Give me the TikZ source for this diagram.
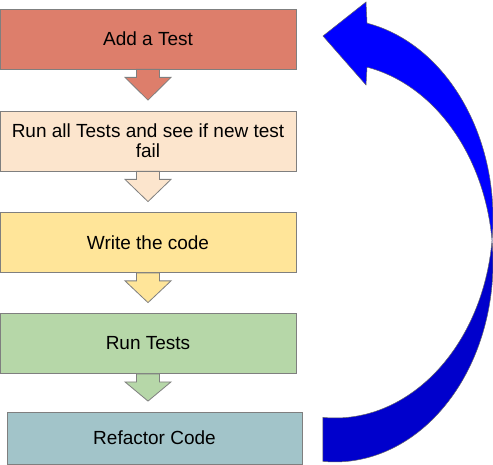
\documentclass[tikz,border=0pt]{standalone}
\usepackage{fontspec}
\setmainfont{Liberation Sans}
\usepackage{xcolor}
\usetikzlibrary{calc}
\definecolor{boxA}{HTML}{DD7E6B}
\definecolor{boxB}{HTML}{FCE5CD}
\definecolor{boxC}{HTML}{FFE599}
\definecolor{boxD}{HTML}{B6D7A8}
\definecolor{boxE}{HTML}{A2C4C9}
\definecolor{boxline}{HTML}{7F7F7F}
\definecolor{loopblue}{HTML}{0000FF}
\definecolor{loopdark}{HTML}{0000CC}

\begin{document}
\begin{tikzpicture}[x=1pt,y=1pt,
  box/.style={draw=boxline, line width=0.8pt, minimum width=296pt, minimum height=60pt,
    inner sep=0pt, align=center, font=\fontsize{19}{20}\selectfont},
  blockarr/.style={draw=boxline, line width=0.8pt, fill=#1},
  loopline/.style={draw=black!60, line width=0.5pt}]
  \useasboundingbox (0,0) rectangle (493,-465);

  \foreach \n/\y/\c/\t in {add/-39/boxA/{Add a Test},
      runall/-141/boxB/{Run all Tests and see if new test\\fail},
      write/-242.5/boxC/{Write the code},
      run/-343.5/boxD/{Run Tests}} {
    \node[box, fill=\c] (\n) at (148,\y) {\t};}
  \node[box, fill=boxE, minimum width=295pt, minimum height=52pt] (refactor) at (154.5,-438) {Refactor Code};

  \foreach \a/\b/\c in {add/runall/boxA, runall/write/boxB, write/run/boxC, run/refactor/boxD} {
    \draw[blockarr=\c] ($(\a.south)+(-11.5,0)$) -- ++(0,-8) -- ++(-11.5,0)
      -- ($(\a.south |- \b.north)+(0,10.5)$) -- ($(\a.south)+(23,-8)$) -- ++(-11.5,0)
      -- ($(\a.south)+(11.5,0)$) -- cycle;}

  \coordinate (e1) at (335,-218.5);
  \coordinate (e2) at (335,-262.5);
  \draw[loopline, fill=loopdark] ($(e1)+(-94.36:158 and 199.5)$)
    arc[start angle=-94.36, end angle=-6.33, x radius=158, y radius=199.5]
    arc[start angle=6.33, end angle=-94.36, x radius=158, y radius=199.5] -- cycle;
  \draw[loopline, fill=loopblue] ($(e2)+(6.33:158 and 199.5)$)
    arc[start angle=6.33, end angle=78.3, x radius=158, y radius=199.5]
    -- (366,-85) -- (323,-36) -- (366,-2) -- ($(e1)+(78.3:158 and 199.5)$)
    arc[start angle=78.3, end angle=-6.33, x radius=158, y radius=199.5] -- cycle;
\end{tikzpicture}
\end{document}
